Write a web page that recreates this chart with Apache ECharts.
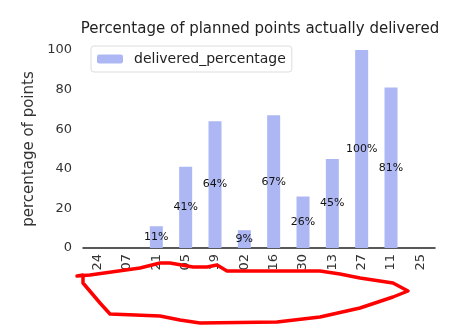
<!DOCTYPE html>
<html>
<head>
<meta charset="utf-8">
<script src="https://cdn.jsdelivr.net/npm/echarts@6/dist/echarts.min.js"></script>
<style>
  html, body { margin: 0; padding: 0; background: #fff; }
  #chart { width: 474px; height: 331px; }
</style>
</head>
<body>
<div id="chart"></div>
<script>
// Sprint end days and the share of planned points delivered in each
const categories = ['24', '07', '21', '05', '19', '02', '16', '30', '13', '27', '11', '25'];
const deliveredPercentage = [null, null, 11, 41, 64, 9, 67, 26, 45, 100, 81, null];
const yTicks = [0, 20, 40, 60, 80, 100];

// Hand-drawn red loop around the date labels (pixel path)
const redLoop = [
  [77, 276], [90, 275], [140, 268], [160, 263], [170, 263], [193, 267],
  [207, 267], [217, 265], [227, 271], [267, 271], [320, 271], [340, 274],
  [360, 278], [393, 283], [408, 291], [393, 297], [360, 308], [320, 317],
  [277, 322], [200, 323], [180, 320], [160, 316], [110, 314], [100, 303],
  [83, 283], [83, 275], [77, 276]
];

const font = 'DejaVu Sans';
const chart = echarts.init(document.getElementById('chart'), null, { renderer: 'canvas' });

chart.setOption({
  animation: false,
  textStyle: { fontFamily: font },
  title: {
    text: 'Percentage of planned points actually delivered',
    left: 255,
    textAlign: 'center',
    top: 17,
    textStyle: { fontFamily: font, fontSize: 15, fontWeight: 'normal', color: '#222' }
  },
  legend: {
    data: ['delivered_percentage'],
    left: 91,
    top: 46,
    orient: 'vertical',
    itemWidth: 26,
    itemHeight: 9,
    itemGap: 8,
    padding: [6, 6, 6, 6],
    borderColor: '#ddd',
    borderWidth: 1,
    borderRadius: 3,
    textStyle: { fontFamily: font, fontSize: 14, color: '#222', padding: [0, 0, 0, 6] }
  },
  grid: { left: 83, right: 39, top: 50, bottom: 83, containLabel: false },
  xAxis: {
    type: 'category',
    data: categories,
    axisLine: { show: true, lineStyle: { color: '#222', width: 1.5 } },
    axisTick: { show: false },
    axisLabel: {
      rotate: 90,
      fontFamily: font,
      fontSize: 13,
      color: '#333',
      margin: 6,
      interval: 0
    }
  },
  yAxis: {
    type: 'value',
    min: 0,
    max: 100,
    interval: 20,
    name: 'percentage of points',
    nameLocation: 'middle',
    nameRotate: 90,
    nameGap: 41,
    nameTextStyle: { fontFamily: font, fontSize: 15, color: '#333' },
    axisLine: { show: false },
    axisTick: { show: false },
    splitLine: { show: false },
    axisLabel: {
      fontFamily: font,
      fontSize: 13,
      color: '#333',
      margin: 11,
      formatter: v => (yTicks.includes(v) ? String(v) : '')
    }
  },
  series: [{
    name: 'delivered_percentage',
    type: 'bar',
    data: deliveredPercentage,
    barWidth: 13,
    itemStyle: { color: '#adb7f3' },
    label: {
      show: true,
      position: 'inside',
      fontFamily: font,
      fontSize: 11,
      color: '#111',
      formatter: p => (p.value == null ? '' : p.value + '%')
    }
  }],
  graphic: [{
    type: 'polyline',
    z: 100,
    shape: { points: redLoop },
    style: { stroke: '#f00', lineWidth: 3.5, fill: null, lineJoin: 'round', lineCap: 'round' }
  }]
});
</script>
</body>
</html>
